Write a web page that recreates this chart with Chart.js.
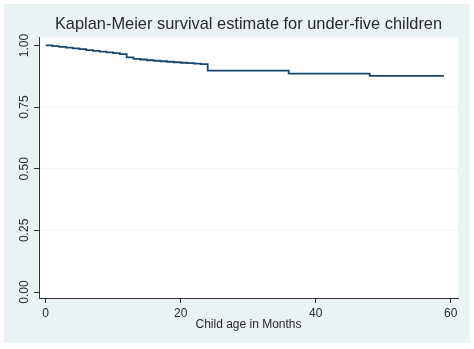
<!DOCTYPE html>
<html>
<head>
<meta charset="utf-8">
<script src="https://cdn.jsdelivr.net/npm/chart.js@4"></script>
<style>
  html, body { margin: 0; padding: 0; background: #fff; }
  #km { display: block; }
</style>
</head>
<body>
<canvas id="km" width="474" height="349"></canvas>
<script>
// Kaplan-Meier survival estimate
var months = [0, 1, 2, 3, 4, 5, 6, 7, 8, 9, 10, 11, 12, 13, 14, 15, 16, 17, 18, 19, 20, 21, 22, 23, 24, 36, 48, 59];
var survival = [1.000, 0.997, 0.994, 0.991, 0.988, 0.985, 0.981, 0.978, 0.975, 0.972, 0.969, 0.965,
  0.952, 0.946, 0.943, 0.940, 0.938, 0.936, 0.934, 0.932, 0.930, 0.928, 0.926, 0.924,
  0.898, 0.886, 0.877, 0.877];
var xTicks = [0, 20, 40, 60];
var yTicks = [0, 0.25, 0.5, 0.75, 1];

var bluishGray = 'rgb(234,242,243)';
var navy = 'rgb(26,71,111)';
var ink = '#2a2a2a';
var fontFamily = '"Liberation Sans", Arial, Helvetica, sans-serif';

var points = months.map(function (m, i) {
  return { x: m, y: survival[i] };
});

// panel background + white plot region, y tick labels turned like Stata
var stataLook = {
  id: 'stataLook',
  beforeDraw: function (chart) {
    var ctx = chart.ctx;
    var a = chart.chartArea;
    ctx.save();
    ctx.fillStyle = '#fff';
    ctx.fillRect(0, 0, chart.width, chart.height);
    ctx.fillStyle = bluishGray;
    ctx.fillRect(4, 4, 466, 339);
    ctx.fillStyle = '#fff';
    ctx.fillRect(a.left, a.top, a.right - a.left, a.bottom - a.top);
    ctx.restore();
  },
  afterDraw: function (chart) {
    var ctx = chart.ctx;
    var y = chart.scales.y;
    ctx.save();
    ctx.fillStyle = ink;
    ctx.font = '12px ' + fontFamily;
    ctx.textAlign = 'center';
    ctx.textBaseline = 'middle';
    y.ticks.forEach(function (t) {
      ctx.save();
      ctx.translate(25, y.getPixelForValue(t.value));
      ctx.rotate(-Math.PI / 2);
      ctx.fillText(t.value.toFixed(2), 0, 0);
      ctx.restore();
    });
    ctx.restore();
  }
};

var chart = new Chart(document.getElementById('km'), {
  type: 'line',
  data: {
    datasets: [{
      data: points,
      borderColor: navy,
      borderWidth: 1.8,
      pointRadius: 0,
      stepped: true,
      fill: false
    }]
  },
  plugins: [stataLook],
  options: {
    responsive: false,
    animation: false,
    layout: { padding: { left: 0, top: 0, right: 16, bottom: 0 } },
    plugins: {
      legend: { display: false },
      tooltip: { enabled: false },
      title: {
        display: true,
        fullSize: false,
        text: 'Kaplan-Meier survival estimate for under-five children',
        color: ink,
        font: { family: fontFamily, size: 16.4, weight: 'normal' },
        padding: { top: 15, bottom: 2.8 }
      }
    },
    scales: {
      x: {
        type: 'linear',
        min: -0.99,
        max: 61.08,
        afterBuildTicks: function (scale) {
          scale.ticks = xTicks.map(function (v) { return { value: v }; });
        },
        afterFit: function (scale) { scale.height = 51; },
        ticks: {
          color: ink,
          padding: 3,
          font: { family: fontFamily, size: 12 },
          maxRotation: 0
        },
        grid: {
          color: 'rgba(0,0,0,0)',
          tickColor: '#333',
          tickLength: 5
        },
        border: { display: true, color: '#333', width: 1 },
        title: {
          display: true,
          text: 'Child age in Months',
          color: ink,
          font: { family: fontFamily, size: 12 },
          padding: { top: 0, bottom: 17 }
        }
      },
      y: {
        type: 'linear',
        min: -0.0243,
        max: 1.0324,
        afterBuildTicks: function (scale) {
          scale.ticks = yTicks.map(function (v) { return { value: v }; });
        },
        afterFit: function (scale) { scale.width = 39; },
        ticks: { display: false },
        grid: {
          color: function (c) {
            var v = c.tick && c.tick.value;
            return (v > 0 && v < 1) ? bluishGray : 'rgba(0,0,0,0)';
          },
          lineWidth: 1,
          tickColor: '#333',
          tickLength: 5
        },
        border: { display: true, color: '#333', width: 1 }
      }
    }
  }
});
</script>
</body>
</html>
